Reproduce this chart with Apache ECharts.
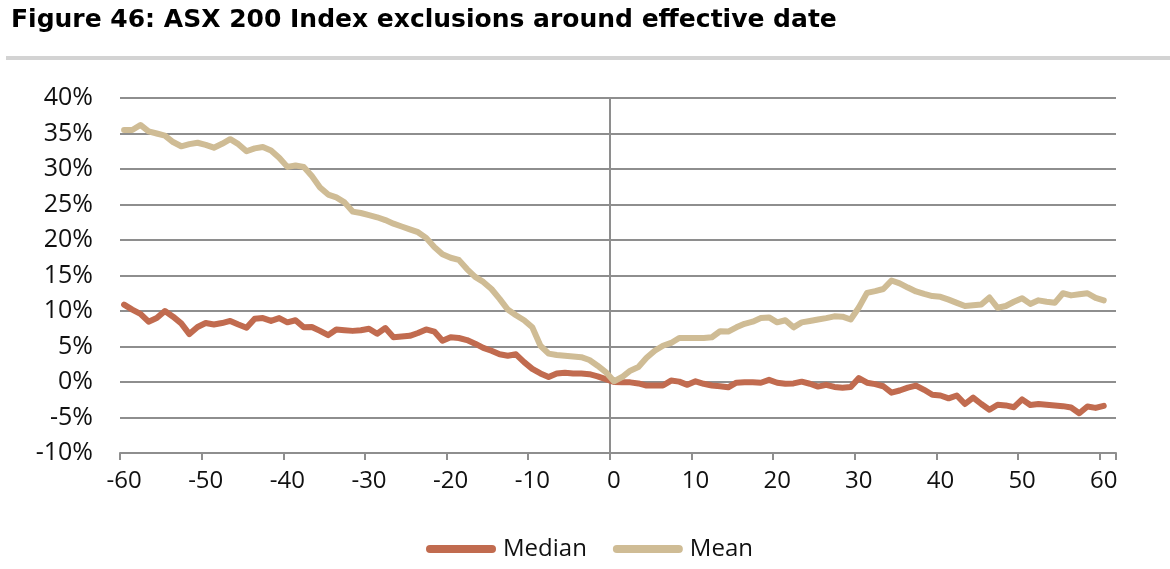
<!DOCTYPE html>
<html>
<head>
<meta charset="utf-8">
<script src="https://cdn.jsdelivr.net/npm/echarts@6/dist/echarts.min.js"></script>
<style>
html,body{margin:0;padding:0;background:#fff;}
#chart{width:1170px;height:569px;}
</style>
</head>
<body>
<div id="chart"></div>
<script>
// Event days relative to the effective date (last category left empty, as in the original axis)
var days = [-60,-59,-58,-57,-56,-55,-54,-53,-52,-51,-50,-49,-48,-47,-46,-45,-44,-43,-42,-41,
  -40,-39,-38,-37,-36,-35,-34,-33,-32,-31,-30,-29,-28,-27,-26,-25,-24,-23,-22,-21,
  -20,-19,-18,-17,-16,-15,-14,-13,-12,-11,-10,-9,-8,-7,-6,-5,-4,-3,-2,-1,
  0,1,2,3,4,5,6,7,8,9,10,11,12,13,14,15,16,17,18,19,20,21,22,23,24,25,26,27,28,29,
  30,31,32,33,34,35,36,37,38,39,40,41,42,43,44,45,46,47,48,49,50,51,52,53,54,55,56,57,58,59,60,61];

// Median cumulative return (%), days -60..60
var median = [10.9,10.2,9.6,8.5,9.0,10.0,9.2,8.25,6.75,7.75,
  8.3,8.1,8.3,8.6,8.1,7.65,8.9,9.0,8.6,9.0,
  8.4,8.7,7.7,7.75,7.2,6.6,7.4,7.3,7.2,7.3,
  7.5,6.8,7.6,6.3,6.4,6.5,6.9,7.4,7.1,5.8,
  6.3,6.2,5.9,5.4,4.8,4.4,3.9,3.7,3.9,2.8,
  1.85,1.2,0.7,1.2,1.3,1.2,1.2,1.1,0.8,0.4,
  0.0,-0.05,-0.05,-0.2,-0.5,-0.5,-0.5,0.2,0.05,-0.4,
  0.1,-0.25,-0.5,-0.6,-0.75,-0.1,-0.05,-0.05,-0.1,0.3,
  -0.1,-0.25,-0.2,0.05,-0.25,-0.65,-0.4,-0.7,-0.8,-0.7,
  0.55,-0.1,-0.3,-0.6,-1.5,-1.2,-0.8,-0.5,-1.1,-1.8,
  -1.9,-2.3,-1.9,-3.1,-2.2,-3.1,-3.9,-3.2,-3.3,-3.55,
  -2.45,-3.25,-3.1,-3.2,-3.3,-3.4,-3.6,-4.4,-3.45,-3.65,-3.35];

// Mean cumulative return (%), days -60..60
var mean = [35.5,35.5,36.2,35.3,35.0,34.7,33.8,33.2,33.5,33.7,
  33.4,33.0,33.55,34.2,33.5,32.5,32.9,33.1,32.6,31.6,
  30.3,30.5,30.3,29.0,27.4,26.4,26.0,25.3,24.0,23.8,
  23.5,23.2,22.8,22.3,21.9,21.5,21.1,20.3,19.0,18.0,
  17.5,17.2,15.9,14.8,14.1,13.1,11.7,10.2,9.4,8.7,
  7.7,5.1,4.0,3.8,3.7,3.6,3.5,3.1,2.3,1.4,
  0.1,0.7,1.6,2.1,3.4,4.4,5.1,5.5,6.2,6.2,
  6.2,6.2,6.3,7.15,7.1,7.7,8.2,8.5,9.0,9.1,
  8.4,8.7,7.7,8.4,8.6,8.8,9.0,9.25,9.2,8.8,
  10.5,12.55,12.8,13.1,14.3,13.9,13.3,12.75,12.4,12.1,
  12.0,11.6,11.15,10.7,10.8,10.9,11.9,10.45,10.7,11.3,
  11.8,11.0,11.5,11.3,11.15,12.5,12.2,12.35,12.5,11.85,11.5];

var yTicks = {min: -10, max: 40, step: 5};
var seriesNames = ['Median', 'Mean'];
var colors = ['#C16B4F', '#CFBC95'];

var gridColor = '#8e8e8e';
var textColor = '#111111';
var font = 'Open Sans';

var chart = echarts.init(document.getElementById('chart'), null, {renderer: 'canvas'});
var capsule = 'path://M4,0 L66,0 A4,4 0 0 1 66,8 L4,8 A4,4 0 0 1 4,0 Z';

chart.setOption({
  animation: false,
  backgroundColor: '#ffffff',
  title: {
    text: 'Figure 46: ASX 200 Index exclusions around effective date',
    left: 6,
    top: 3,
    textStyle: {fontFamily: 'DejaVu Sans', fontSize: 25, fontWeight: 'bold', color: '#000000'}
  },
  graphic: [{
    type: 'rect',
    left: 6, top: 56,
    shape: {width: 1164, height: 4},
    style: {fill: '#d3d3d3'},
    silent: true
  }],
  grid: {left: 120, right: 54, top: 98, bottom: 116, containLabel: false},
  legend: {
    data: seriesNames.map(function (n) { return {name: n, icon: capsule}; }),
    left: 421,
    top: 532,
    itemWidth: 70,
    itemHeight: 8,
    itemGap: 26,
    textStyle: {fontFamily: font, fontSize: 24, color: textColor, padding: [0, 0, 0, 2]}
  },
  xAxis: [{
    type: 'category',
    data: days,
    boundaryGap: true,
    axisLine: {onZero: false, lineStyle: {color: gridColor, width: 2}},
    axisTick: {
      show: true, length: 7,
      interval: function (i) { return i % 10 === 0; },
      lineStyle: {color: gridColor, width: 2}
    },
    axisLabel: {
      interval: function (i) { return i % 10 === 0; },
      margin: 16,
      fontFamily: font, fontSize: 24, color: textColor
    },
    splitLine: {show: false}
  }, {
    type: 'value',
    min: days[0],
    max: days[days.length - 1] + 1,
    show: false
  }],
  yAxis: [{
    type: 'value',
    min: yTicks.min, max: yTicks.max, interval: yTicks.step,
    axisLine: {show: false, onZero: false},
    axisTick: {show: false},
    axisLabel: {
      formatter: '{value}%',
      margin: 27,
      fontFamily: font, fontSize: 25, color: textColor
    },
    splitLine: {lineStyle: {color: gridColor, width: 2}}
  }, {
    type: 'value',
    min: yTicks.min, max: yTicks.max, interval: yTicks.step,
    axisLine: {show: true, onZero: true, onZeroAxisIndex: 1, lineStyle: {color: gridColor, width: 2}},
    axisTick: {show: false},
    axisLabel: {show: false},
    splitLine: {show: false}
  }],
  series: [{
    name: seriesNames[0],
    type: 'line',
    data: median,
    xAxisIndex: 0, yAxisIndex: 0,
    symbol: 'none',
    lineStyle: {color: colors[0], width: 6, cap: 'round', join: 'round'},
    itemStyle: {color: colors[0]},
    z: 3
  }, {
    name: seriesNames[1],
    type: 'line',
    data: mean,
    xAxisIndex: 0, yAxisIndex: 0,
    symbol: 'none',
    lineStyle: {color: colors[1], width: 6, cap: 'round', join: 'round'},
    itemStyle: {color: colors[1]},
    z: 3
  }]
});
</script>
</body>
</html>
